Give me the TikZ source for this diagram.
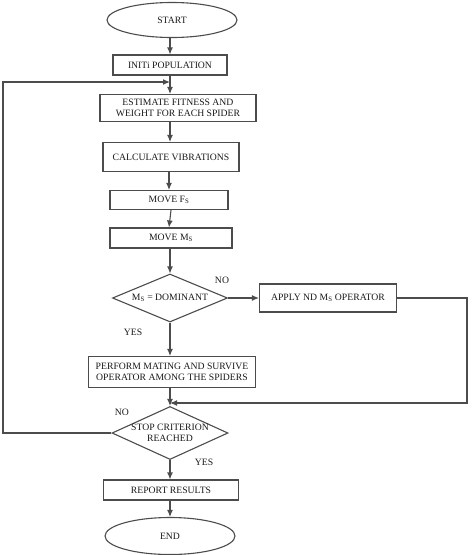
\documentclass[tikz,border=0pt]{standalone}
\usepackage{fontspec}
\setmainfont{Liberation Serif}
\usetikzlibrary{shapes.geometric,arrows.meta}
\begin{document}
\begin{tikzpicture}[x=1pt,y=-1pt,
  every node/.style={font=\fontsize{9.7}{11}\selectfont, text=black!90},
  line/.style={draw=black!70, line width=1.1pt},
  arr/.style={line, -{Latex[length=7pt,width=6pt]}},
  procbox/.style={draw=black!70, line width=1.1pt, rectangle, inner sep=0pt, align=center},
  ovalbox/.style={draw=black!70, line width=1.1pt, ellipse, inner sep=0pt},
  diabox/.style={draw=black!70, line width=1.1pt, diamond, inner sep=0pt},
  lbl/.style={inner sep=0pt}
]
\useasboundingbox (0,0) rectangle (474,555);

\node[ovalbox, minimum width=130, minimum height=35] (start) at (172,20) {START};
\node[procbox, minimum width=114, minimum height=20] (init) at (170,65) {INITi POPULATION};
\node[procbox, minimum width=156, minimum height=27] (est) at (178,108) {ESTIMATE FITNESS AND\\WEIGHT FOR EACH SPIDER};
\node[procbox, minimum width=136, minimum height=29] (calc) at (171,157) {CALCULATE VIBRATIONS};
\node[procbox, minimum width=118, minimum height=19] (mf) at (169,200) {MOVE F\textsubscript{S}};
\node[procbox, minimum width=122, minimum height=20] (mm) at (171,238) {MOVE M\textsubscript{S}};
\node[diabox, minimum width=115, minimum height=48] (dom) at (170,298) {};
\node[lbl] (domtxt) at (dom) {M\textsubscript{S} = DOMINANT};
\node[procbox, minimum width=137, minimum height=28] (apply) at (328,298) {APPLY ND M\textsubscript{S} OPERATOR};
\node[procbox, minimum width=167, minimum height=31] (perf) at (172,372) {PERFORM MATING AND SURVIVE\\OPERATOR AMONG THE SPIDERS};
\node[diabox, minimum width=116, minimum height=53] (stop) at (170,433) {};
\node[lbl, align=center] (stoptxt) at (stop) {STOP CRITERION\\REACHED};
\node[procbox, minimum width=135, minimum height=20] (rep) at (171,490) {REPORT RESULTS};
\node[ovalbox, minimum width=130, minimum height=37] (end) at (170,536) {END};

\node[lbl] (no1) at (222,280) {NO};
\node[lbl] (yes1) at (133,332) {YES};
\node[lbl] (no2) at (122,412) {NO};
\node[lbl] (yes2) at (204,462) {YES};

\coordinate (j1) at (170,82);
\coordinate (j2) at (170,403);
\coordinate (l1) at (3,433);
\coordinate (l2) at (3,82);
\coordinate (r1) at (467,298);
\coordinate (r2) at (467,403);

\draw[arr] (start.south -| init.north) -- (init.north);
\draw[arr] (init.south) -- (init.south |- est.north);
\draw[arr] (init.south |- est.south) -- (init.south |- calc.north);
\draw[arr] (calc.south -| mf.north) -- (mf.north);
\draw[arr] (mf.south -| mm.north) -- (mm.north -| mf.north);
\draw[arr] (mm.south -| dom.north) -- (dom.north);
\draw[arr] (dom.east) -- (apply.west);
\draw[arr] (dom.south) -- (dom.south |- perf.north);
\draw[arr] (perf.south -| stop.north) -- (stop.north);
\draw[arr] (stop.south) -- (stop.south |- rep.north);
\draw[arr] (rep.south -| end.north) -- (end.north);
\draw[arr] (stop.west) -- (l1) -- (l2) -- (j1);
\draw[arr] (apply.east) -- (r1) -- (r2) -- (j2);
\end{tikzpicture}
\end{document}
